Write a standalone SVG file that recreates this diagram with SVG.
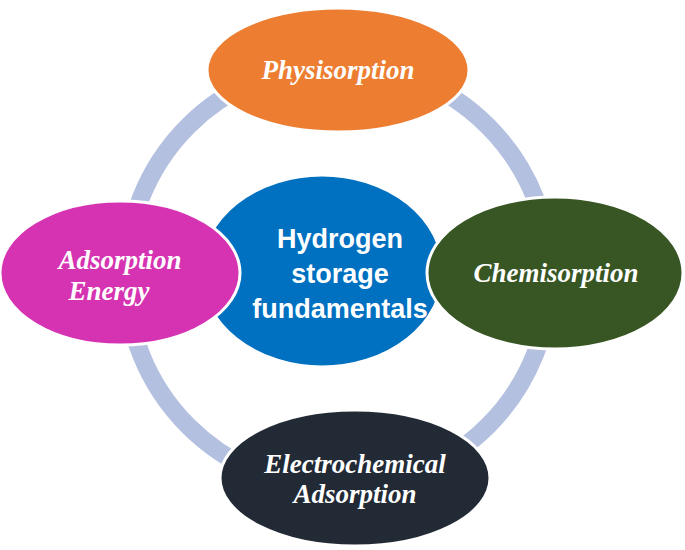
<svg xmlns="http://www.w3.org/2000/svg" width="685" height="550" viewBox="0 0 685 550">
<style>
.n{stroke:#fff;stroke-width:3}
.t{font-family:"Liberation Serif",serif;font-style:italic;font-weight:bold;font-size:27px;fill:#fff;text-anchor:middle}
.c{font-family:"Liberation Sans",sans-serif;font-weight:bold;font-size:27px;fill:#fff;text-anchor:middle}
</style>
<rect width="685" height="550" fill="#fff"/>
<g id="connectors"><circle cx="338" cy="276" r="212" fill="none" stroke="#B4C0E0" stroke-width="18"/></g>
<g id="center"><ellipse class="n" cx="322" cy="271" rx="121" ry="96" fill="#0070C0"/>
<text class="c" x="340" y="248">Hydrogen</text><text class="c" x="340" y="283">storage</text><text class="c" x="340" y="318">fundamentals</text></g>
<g id="physisorption"><ellipse class="n" cx="338" cy="70" rx="131" ry="62" fill="#ED7D31"/><text class="t" x="338" y="79">Physisorption</text></g>
<g id="adsorption-energy"><ellipse class="n" cx="120" cy="273" rx="120" ry="72" fill="#D533B2"/><text class="t" x="120" y="269">Adsorption</text><text class="t" x="109" y="300">Energy</text></g>
<g id="chemisorption"><ellipse class="n" cx="555" cy="273" rx="128" ry="76" fill="#375623"/><text class="t" x="556" y="282">Chemisorption</text></g>
<g id="electrochemical"><ellipse class="n" cx="355" cy="478" rx="135" ry="68" fill="#222A35"/><text class="t" x="355" y="473">Electrochemical</text><text class="t" x="355" y="503">Adsorption</text></g>
</svg>
